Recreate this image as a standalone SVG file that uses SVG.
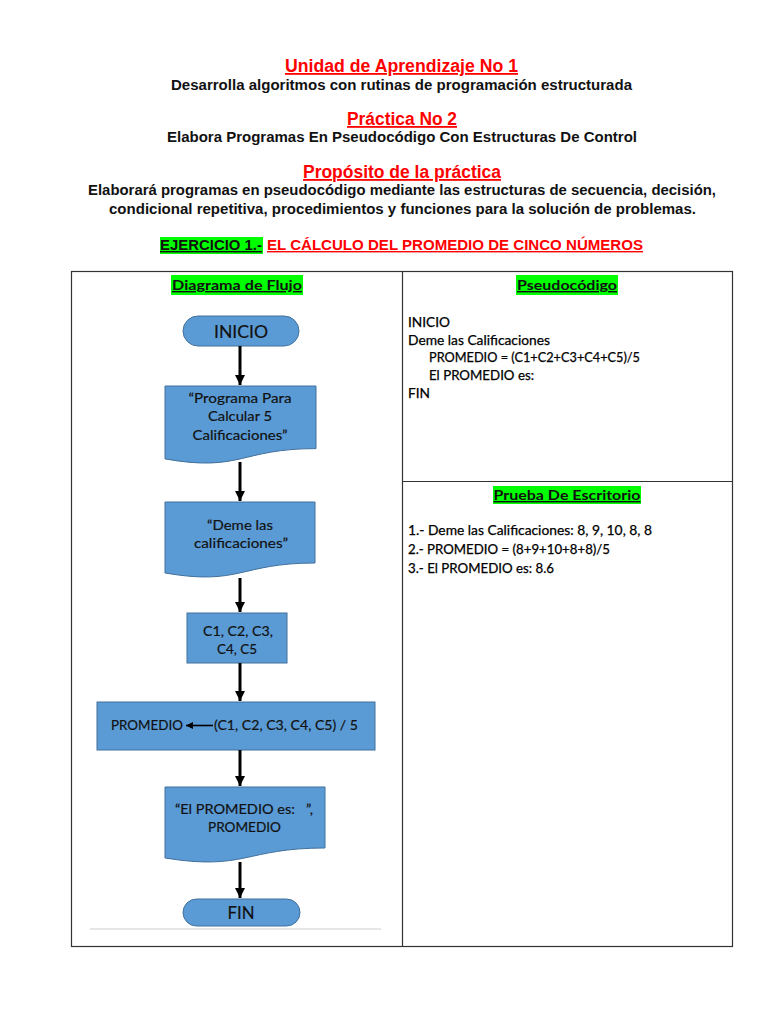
<svg xmlns="http://www.w3.org/2000/svg" width="768" height="1024" viewBox="0 0 768 1024">
<style>
.red{font-family:"Liberation Sans",Arial,sans-serif;font-weight:bold;font-size:18px;fill:#ff0000;text-decoration:underline;text-anchor:middle}
.blk{font-family:"Liberation Sans",Arial,sans-serif;font-weight:bold;font-size:14px;fill:#111;text-anchor:middle}
.hdr{font-family:Lato,"Open Sans",sans-serif;font-weight:bold;font-size:14px;fill:#111;text-decoration:underline;text-anchor:middle}
.code{font-family:Lato,"Open Sans",sans-serif;font-size:13px;fill:#000;stroke:#000;stroke-width:0.25}
.node{fill:#5b9bd5;stroke:#41719c;stroke-width:1}
.nt{font-family:Lato,"Open Sans",sans-serif;font-size:14px;fill:#111;stroke:#111;stroke-width:0.2;text-anchor:middle}
.term{font-family:Lato,"Open Sans",sans-serif;font-size:18px;fill:#111;stroke:#111;stroke-width:0.2;text-anchor:middle}
.hl{fill:#00ff00}
.conn{stroke:#000;stroke-width:3;fill:none}
</style>
<defs>
<marker id="ah" viewBox="0 0 10 10" refX="10" refY="5" markerWidth="10" markerHeight="10" markerUnits="userSpaceOnUse" orient="auto">
<path d="M0,0 L10,5 L0,10 z" fill="#000"/>
</marker>
<marker id="ahs" viewBox="0 0 10 10" refX="10" refY="5" markerWidth="7" markerHeight="7" markerUnits="userSpaceOnUse" orient="auto">
<path d="M0,0 L10,5 L0,10 z" fill="#000"/>
</marker>
</defs>
<rect width="768" height="1024" fill="#fff"/>

<g id="titles">
<text class="red" x="401.5" y="72" textLength="233" lengthAdjust="spacingAndGlyphs">Unidad de Aprendizaje No 1</text>
<text class="blk" x="401.5" y="90" textLength="461" lengthAdjust="spacingAndGlyphs">Desarrolla algoritmos con rutinas de programación estructurada</text>
<text class="red" x="402" y="125" textLength="110" lengthAdjust="spacingAndGlyphs">Práctica No 2</text>
<text class="blk" x="402" y="142" textLength="470" lengthAdjust="spacingAndGlyphs">Elabora Programas En Pseudocódigo Con Estructuras De Control</text>
<text class="red" x="402" y="178" textLength="198" lengthAdjust="spacingAndGlyphs">Propósito de la práctica</text>
<text class="blk" x="402" y="195" textLength="628" lengthAdjust="spacingAndGlyphs">Elaborará programas en pseudocódigo mediante las estructuras de secuencia, decisión,</text>
<text class="blk" x="402.5" y="214" textLength="587" lengthAdjust="spacingAndGlyphs">condicional repetitiva, procedimientos y funciones para la solución de problemas.</text>
<rect class="hl" x="160" y="237" width="103" height="17"/>
<text x="160" y="250" font-family="Liberation Sans, Arial, sans-serif" font-weight="bold" font-size="14" fill="#111" text-decoration="underline" textLength="102" lengthAdjust="spacingAndGlyphs">EJERCICIO 1.-</text>
<text x="267" y="250" font-family="Liberation Sans, Arial, sans-serif" font-weight="bold" font-size="14" fill="#ff0000" text-decoration="underline" textLength="376" lengthAdjust="spacingAndGlyphs">EL CÁLCULO DEL PROMEDIO DE CINCO NÚMEROS</text>
</g>

<g id="table" fill="none" stroke="#333" stroke-width="1.2">
<rect x="71.5" y="271.5" width="661" height="675"/>
<line x1="402.5" y1="271.5" x2="402.5" y2="946.5"/>
<line x1="402.5" y1="481.5" x2="732.5" y2="481.5"/>
</g>

<g id="headers">
<rect class="hl" x="171" y="275" width="132" height="20"/>
<text class="hdr" x="237" y="290" textLength="130" lengthAdjust="spacingAndGlyphs">Diagrama de Flujo</text>
<rect class="hl" x="516" y="275" width="102" height="20"/>
<text class="hdr" x="567" y="290" textLength="100" lengthAdjust="spacingAndGlyphs">Pseudocódigo</text>
<rect class="hl" x="493" y="486" width="148" height="18"/>
<text class="hdr" x="567" y="500" textLength="147" lengthAdjust="spacingAndGlyphs">Prueba De Escritorio</text>
</g>

<g id="pseudocode">
<text class="code" x="408" y="327" textLength="42" lengthAdjust="spacingAndGlyphs">INICIO</text>
<text class="code" x="408" y="345" textLength="142" lengthAdjust="spacingAndGlyphs">Deme las Calificaciones</text>
<text class="code" x="429" y="362" textLength="211" lengthAdjust="spacingAndGlyphs">PROMEDIO = (C1+C2+C3+C4+C5)/5</text>
<text class="code" x="429" y="380" textLength="105" lengthAdjust="spacingAndGlyphs">El PROMEDIO es:</text>
<text class="code" x="408" y="398" textLength="22" lengthAdjust="spacingAndGlyphs">FIN</text>
</g>

<g id="desk-check">
<text class="code" x="408" y="535" textLength="244" lengthAdjust="spacingAndGlyphs">1.- Deme las Calificaciones: 8, 9, 10, 8, 8</text>
<text class="code" x="408" y="554" textLength="202" lengthAdjust="spacingAndGlyphs">2.- PROMEDIO = (8+9+10+8+8)/5</text>
<text class="code" x="408" y="573" textLength="146" lengthAdjust="spacingAndGlyphs">3.- El PROMEDIO es: 8.6</text>
</g>

<g id="inicio">
<rect class="node" x="183" y="316" width="116" height="30" rx="15"/>
<text class="term" x="241" y="338" textLength="54" lengthAdjust="spacingAndGlyphs">INICIO</text>
</g>

<g id="doc-programa">
<path class="node" d="M165,386 H316 V448.6 C240.5,448.6 240.5,472.4 165,458.9 Z"/>
<text class="nt" x="240" y="403" textLength="103" lengthAdjust="spacingAndGlyphs">“Programa Para</text>
<text class="nt" x="240" y="421" textLength="64" lengthAdjust="spacingAndGlyphs">Calcular 5</text>
<text class="nt" x="240" y="440" textLength="95" lengthAdjust="spacingAndGlyphs">Calificaciones”</text>
</g>

<g id="doc-deme">
<path class="node" d="M165,502 H315 V563 C240,563 240,586 165,573 Z"/>
<text class="nt" x="240" y="530" textLength="66" lengthAdjust="spacingAndGlyphs">“Deme las</text>
<text class="nt" x="241" y="548" textLength="94" lengthAdjust="spacingAndGlyphs">calificaciones”</text>
</g>

<g id="input-c">
<rect class="node" x="187" y="613" width="100" height="50"/>
<text class="nt" x="238" y="636" textLength="70" lengthAdjust="spacingAndGlyphs">C1, C2, C3,</text>
<text class="nt" x="237" y="654" textLength="40" lengthAdjust="spacingAndGlyphs">C4, C5</text>
</g>

<g id="proc-promedio">
<rect class="node" x="97" y="702" width="278" height="48"/>
<text class="nt" x="147" y="730" textLength="72" lengthAdjust="spacingAndGlyphs">PROMEDIO</text>
<line x1="213" y1="725.5" x2="186" y2="725.5" stroke="#000" stroke-width="1.6" marker-end="url(#ahs)"/>
<text class="nt" x="286" y="730" textLength="144" lengthAdjust="spacingAndGlyphs">(C1, C2, C3, C4, C5) / 5</text>
</g>

<g id="doc-resultado">
<path class="node" d="M165,787 H325 V848 C245,848 245,871 165,858 Z"/>
<text class="nt" x="244" y="814" textLength="138" lengthAdjust="spacingAndGlyphs">“El PROMEDIO es:&#160;&#160;&#160;”,</text>
<text class="nt" x="244.5" y="832" textLength="73" lengthAdjust="spacingAndGlyphs">PROMEDIO</text>
</g>

<g id="fin">
<rect class="node" x="183" y="899" width="117" height="27" rx="13.5"/>
<text class="term" x="241" y="919" textLength="27" lengthAdjust="spacingAndGlyphs">FIN</text>
</g>

<line x1="90" y1="929" x2="381" y2="929" stroke="#e6e6e6" stroke-width="2"/>

<g id="connectors">
<line class="conn" x1="240" y1="346" x2="240" y2="385" marker-end="url(#ah)"/>
<line class="conn" x1="240" y1="462" x2="240" y2="501" marker-end="url(#ah)"/>
<line class="conn" x1="240" y1="578" x2="240" y2="612" marker-end="url(#ah)"/>
<line class="conn" x1="240" y1="663" x2="240" y2="701" marker-end="url(#ah)"/>
<line class="conn" x1="240" y1="750" x2="240" y2="786" marker-end="url(#ah)"/>
<line class="conn" x1="240" y1="862" x2="240" y2="898" marker-end="url(#ah)"/>
</g>
</svg>
